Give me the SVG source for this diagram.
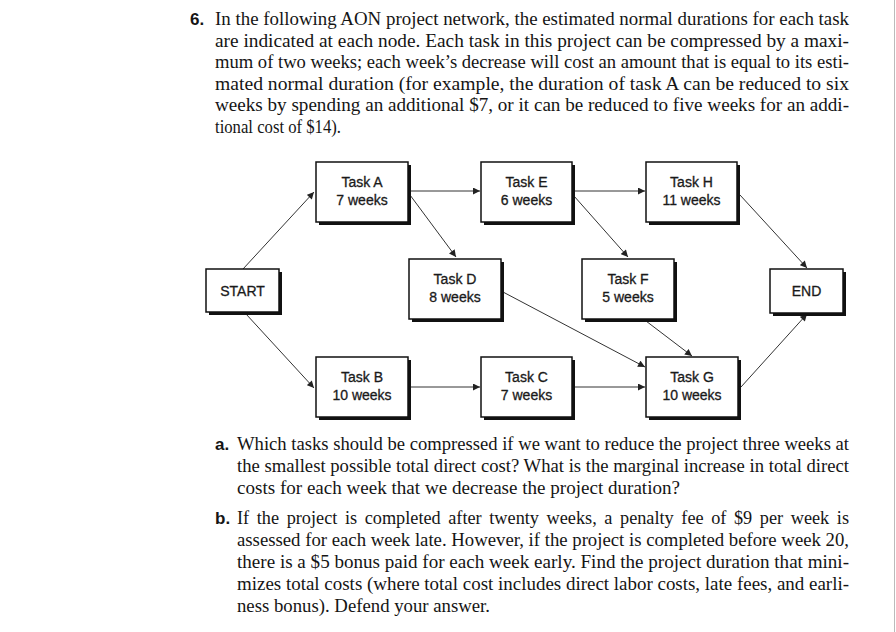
<svg xmlns="http://www.w3.org/2000/svg" width="896" height="632" viewBox="0 0 896 632">
<style>
.body{font-family:"Liberation Serif","Times New Roman",serif;font-size:18px;fill:#151515}
.num{font-family:"Liberation Sans",Arial,sans-serif;font-size:17px;font-weight:bold;fill:#151515}
.lbl{font-family:"Liberation Sans",Arial,sans-serif;font-size:14px;fill:#1a1a1a;stroke:#1a1a1a;stroke-width:0.3;text-anchor:middle}
.box{fill:#fff;stroke:#111;stroke-width:1.5}
.shd{fill:#111}
.con line{stroke:#333;stroke-width:1;marker-end:url(#ah)}
</style>
<defs>
<marker id="ah" viewBox="0 0 10 10" refX="10" refY="5" markerWidth="8" markerHeight="7" markerUnits="userSpaceOnUse" orient="auto">
<path d="M0,0 L10,5 L0,10 z" fill="#222"/>
</marker>
</defs>
<rect width="896" height="632" fill="#fff"/>
<line x1="894.5" y1="0" x2="894.5" y2="632" stroke="#bbb" stroke-width="1"/>

<g id="question-text">
<text class="num" x="190" y="25">6.</text>
<text class="body" x="215" y="25" textLength="634" lengthAdjust="spacingAndGlyphs">In the following AON project network, the estimated normal durations for each task</text>
<text class="body" x="215" y="46.5" textLength="634" lengthAdjust="spacingAndGlyphs">are indicated at each node. Each task in this project can be compressed by a maxi-</text>
<text class="body" x="215" y="68" textLength="634" lengthAdjust="spacingAndGlyphs">mum of two weeks; each week’s decrease will cost an amount that is equal to its esti-</text>
<text class="body" x="215" y="89.5" textLength="634" lengthAdjust="spacingAndGlyphs">mated normal duration (for example, the duration of task A can be reduced to six</text>
<text class="body" x="215" y="111" textLength="634" lengthAdjust="spacingAndGlyphs">weeks by spending an additional $7, or it can be reduced to five weeks for an addi-</text>
<text class="body" x="215" y="132.5" textLength="126" lengthAdjust="spacingAndGlyphs">tional cost of $14).</text>
</g>

<g id="connectors" class="con">
<line x1="243" y1="269" x2="314" y2="192"/>
<line x1="410" y1="191" x2="480" y2="191"/>
<line x1="410" y1="195" x2="456" y2="257"/>
<line x1="573" y1="191" x2="645" y2="191"/>
<line x1="574" y1="196" x2="628" y2="257"/>
<line x1="740" y1="195" x2="807" y2="268"/>
<line x1="246" y1="314" x2="314" y2="388"/>
<line x1="410" y1="387" x2="480" y2="387"/>
<line x1="574" y1="387" x2="645" y2="387"/>
<line x1="503" y1="292" x2="645" y2="367"/>
<line x1="646" y1="321" x2="692" y2="356"/>
<line x1="741" y1="387" x2="807" y2="314"/>
</g>

<g id="START">
<rect class="shd" x="209" y="272" width="73" height="43"/>
<rect class="box" x="206" y="269" width="73" height="43"/>
<text class="lbl" x="242.5" y="296">START</text>
</g>
<g id="taskA">
<rect class="shd" x="319" y="165" width="92" height="60"/>
<rect class="box" x="316" y="162" width="92" height="60"/>
<text class="lbl" x="362" y="187">Task A</text>
<text class="lbl" x="362" y="205">7 weeks</text>
</g>
<g id="taskE">
<rect class="shd" x="484" y="165" width="91" height="60"/>
<rect class="box" x="481" y="162" width="91" height="60"/>
<text class="lbl" x="526.5" y="187">Task E</text>
<text class="lbl" x="526.5" y="205">6 weeks</text>
</g>
<g id="taskH">
<rect class="shd" x="649" y="165" width="91" height="60"/>
<rect class="box" x="646" y="162" width="91" height="60"/>
<text class="lbl" x="691.5" y="187">Task H</text>
<text class="lbl" x="691.5" y="205">11 weeks</text>
</g>
<g id="taskD">
<rect class="shd" x="412" y="262" width="92" height="60"/>
<rect class="box" x="409" y="259" width="92" height="60"/>
<text class="lbl" x="455" y="284">Task D</text>
<text class="lbl" x="455" y="302">8 weeks</text>
</g>
<g id="taskF">
<rect class="shd" x="585" y="262" width="92" height="60"/>
<rect class="box" x="582" y="259" width="92" height="60"/>
<text class="lbl" x="628" y="284">Task F</text>
<text class="lbl" x="628" y="302">5 weeks</text>
</g>
<g id="END">
<rect class="shd" x="773" y="272" width="73" height="44"/>
<rect class="box" x="770" y="269" width="73" height="44"/>
<text class="lbl" x="806.5" y="296">END</text>
</g>
<g id="taskB">
<rect class="shd" x="319" y="360" width="92" height="60"/>
<rect class="box" x="316" y="357" width="92" height="60"/>
<text class="lbl" x="362" y="382">Task B</text>
<text class="lbl" x="362" y="400">10 weeks</text>
</g>
<g id="taskC">
<rect class="shd" x="484" y="360" width="91" height="60"/>
<rect class="box" x="481" y="357" width="91" height="60"/>
<text class="lbl" x="526.5" y="382">Task C</text>
<text class="lbl" x="526.5" y="400">7 weeks</text>
</g>
<g id="taskG">
<rect class="shd" x="649" y="360" width="92" height="60"/>
<rect class="box" x="646" y="357" width="92" height="60"/>
<text class="lbl" x="692" y="382">Task G</text>
<text class="lbl" x="692" y="400">10 weeks</text>
</g>

<g id="parts-text">
<text class="num" x="215" y="450">a.</text>
<text class="body" x="237" y="450" textLength="612" lengthAdjust="spacingAndGlyphs">Which tasks should be compressed if we want to reduce the project three weeks at</text>
<text class="body" x="237" y="472" textLength="612" lengthAdjust="spacingAndGlyphs">the smallest possible total direct cost? What is the marginal increase in total direct</text>
<text class="body" x="237" y="494" textLength="443" lengthAdjust="spacingAndGlyphs">costs for each week that we decrease the project duration?</text>
<text class="num" x="215" y="524">b.</text>
<text class="body" x="237" y="524" textLength="612" lengthAdjust="spacingAndGlyphs" word-spacing="3">If the project is completed after twenty weeks, a penalty fee of $9 per week is</text>
<text class="body" x="237" y="546" textLength="612" lengthAdjust="spacingAndGlyphs">assessed for each week late. However, if the project is completed before week 20,</text>
<text class="body" x="237" y="568" textLength="612" lengthAdjust="spacingAndGlyphs">there is a $5 bonus paid for each week early. Find the project duration that mini-</text>
<text class="body" x="237" y="590" textLength="612" lengthAdjust="spacingAndGlyphs">mizes total costs (where total cost includes direct labor costs, late fees, and earli-</text>
<text class="body" x="237" y="612" textLength="253" lengthAdjust="spacingAndGlyphs">ness bonus). Defend your answer.</text>
</g>
</svg>
